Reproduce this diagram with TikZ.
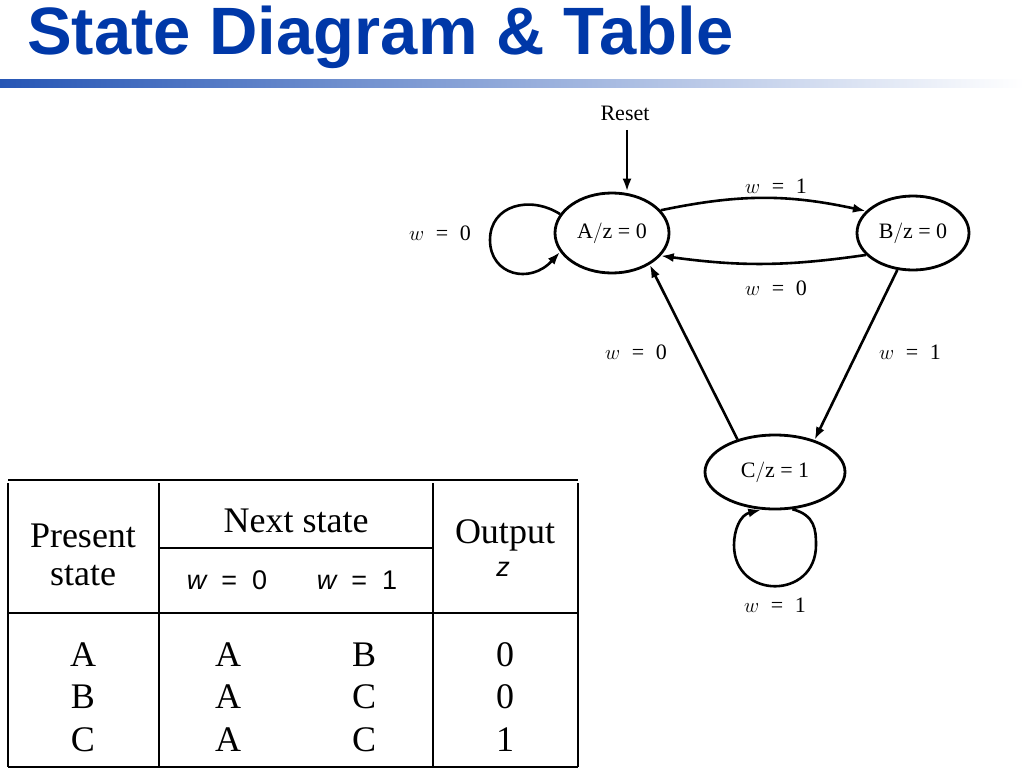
\documentclass[tikz,border=0pt]{standalone}
\usepackage{fontspec}
\setmainfont{Liberation Serif}
\setsansfont{Liberation Sans}
\usetikzlibrary{arrows.meta,shapes.geometric}
\definecolor{titleblue}{RGB}{0,56,168}
\begin{document}
\begin{tikzpicture}[x=1pt,y=-1pt,
  st/.style={draw,ellipse,line width=2.8pt,inner sep=0,font=\fontsize{22}{24}\selectfont},
  tr/.style={line width=2.6pt,-{Latex[length=13pt,width=9pt]}},
  lab/.style={font=\fontsize{22}{24}\selectfont},
  tl/.style={line width=2.6pt},
  tt/.style={font=\fontsize{36}{40}\selectfont},
  ts/.style={font=\sffamily\fontsize{27}{30}\selectfont}]
\useasboundingbox (0,0) rectangle (1024,781);
\node[anchor=base west,font=\sffamily\bfseries\fontsize{67}{74}\selectfont,text=titleblue,inner sep=0] (title) at (27,55) {State Diagram \& Table};
\shade[left color=titleblue!85,right color=white] (0,80) rectangle (1024,88);
% state diagram
\node[st,minimum width=114pt,minimum height=80pt] (A) at (612,233) {A$/$z = 0};
\node[st,minimum width=112pt,minimum height=74pt] (B) at (913,233) {B$/$z = 0};
\node[st,minimum width=140pt,minimum height=74pt] (C) at (775,472) {C$/$z = 1};
\node[lab] (reset) at (625,113) {Reset};
\draw[tr] (reset.south) ++(2,6) coordinate (r0) -- (A.north -| r0);
\draw[tr] (A.25) to[bend left=12] (B.155);
\draw[tr] (B.205) to[bend left=8] (A.335);
\draw[tr] (B.247) -- (C.39);
\draw[tr] (C.139) -- (A.320);
\draw[tr] (A.160) .. controls (530,195) and (490,205) .. (490,240) .. controls (490,275) and (530,285) .. (A.200);
\draw[tr] (C.295) .. controls (815,515) and (816,530) .. (816,545) .. controls (816,600) and (734,600) .. (734,545) .. controls (734,530) and (740,515) .. (C.250);
\node[lab] (l1) at (776,186) {$w$ \;=\; 1};
\node[lab] (l2) at (776,288) {$w$ \;=\; 0};
\node[lab] (l3) at (440,233) {$w$ \;=\; 0};
\node[lab] (l4) at (910,352) {$w$ \;=\; 1};
\node[lab] (l5) at (636,352) {$w$ \;=\; 0};
\node[lab] (l6) at (775,605) {$w$ \;=\; 1};
% table
\draw[tl] (8,480) -- (578,480);
\draw[tl] (8,767) -- (578,767);
\draw[tl] (8,483) -- (8,767);
\draw[tl] (578,483) -- (578,767);
\draw[tl] (159,483) -- (159,767);
\draw[tl] (433,483) -- (433,767);
\draw[tl] (8,613) -- (578,613);
\draw[tl] (159,548) -- (433,548);
\node[tt] (p1) at (83,536) {Present};
\node[tt] (p2) at (83,576) {state};
\node[tt] (ns) at (296,521) {Next state};
\node[tt] (o1) at (505,535) {Output};
\node[ts] (oz) at (503,569) {\itshape z};
\node[ts] (w0) at (227,580) {\itshape w\upshape{} \;=\; 0};
\node[ts] (w1) at (357,580) {\itshape w\upshape{} \;=\; 1};
\foreach \r/\y in {A/655,B/697,C/740}{\node[tt] (ps\r) at (83,\y) {\r};}
\node[tt] (nA0) at (228,655) {A};
\node[tt] (nB0) at (228,697) {A};
\node[tt] (nC0) at (228,740) {A};
\node[tt] (nA1) at (364,655) {B};
\node[tt] (nB1) at (364,697) {C};
\node[tt] (nC1) at (364,740) {C};
\node[tt] (zA) at (505,655) {0};
\node[tt] (zB) at (505,697) {0};
\node[tt] (zC) at (505,740) {1};
\end{tikzpicture}
\end{document}
